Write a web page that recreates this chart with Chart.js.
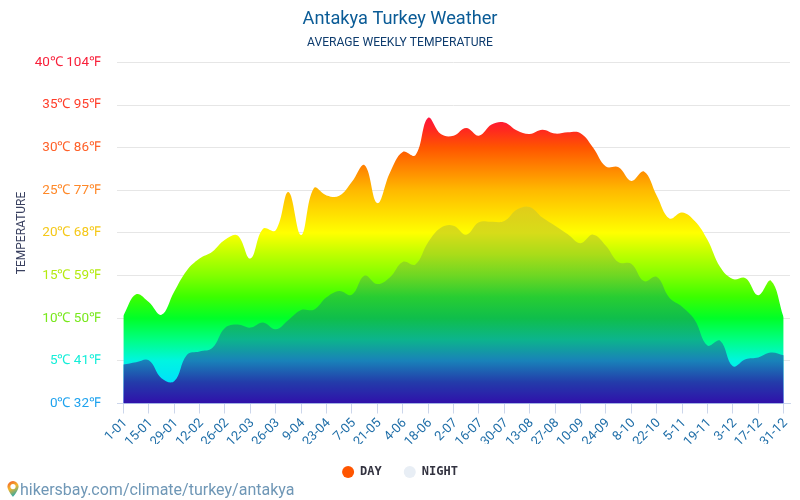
<!DOCTYPE html>
<html>
<head>
<meta charset="utf-8">
<title>Antakya Turkey Weather</title>
<script src="https://cdn.jsdelivr.net/npm/chart.js@4/dist/chart.umd.min.js"></script>
<style>
  html, body { margin: 0; padding: 0; background: #fff; }
  #wrap { position: relative; width: 800px; height: 500px; overflow: hidden; }
  #footer { position: absolute; left: 20px; top: 480px; font: 16px Roboto, sans-serif; color: #6f97b6; white-space: nowrap; }
  #pin { position: absolute; left: 6px; top: 480px; }
</style>
</head>
<body>
<div id="wrap">
  <canvas id="weatherChart" width="800" height="500"></canvas>
  <svg id="pin" width="14" height="18" viewBox="0 0 14 18">
    <defs>
      <linearGradient id="pinGrad" x1="0" y1="0" x2="0.4" y2="1">
        <stop offset="0" stop-color="#f0522a"/>
        <stop offset="0.5" stop-color="#f5b62c"/>
        <stop offset="1" stop-color="#2fa9a5"/>
      </linearGradient>
    </defs>
    <path d="M7 1a5.6 5.6 0 0 0-5.6 5.6C1.4 10.5 7 17 7 17s5.6-6.5 5.6-10.4A5.6 5.6 0 0 0 7 1z" fill="url(#pinGrad)"/>
    <circle cx="7" cy="6.6" r="2.6" fill="#fff"/>
  </svg>
  <div id="footer">hikersbay.com/climate/turkey/antakya</div>
</div>
<script>
const weeks = ['1-01','8-01','15-01','22-01','29-01','5-02','12-02','19-02','26-02','5-03','12-03','19-03','26-03','2-04','9-04','16-04','23-04','30-04','7-05','14-05','21-05','28-05','4-06','11-06','18-06','25-06','2-07','9-07','16-07','23-07','30-07','6-08','13-08','20-08','27-08','3-09','10-09','17-09','24-09','1-10','8-10','15-10','22-10','29-10','5-11','12-11','19-11','26-11','3-12','10-12','17-12','24-12','31-12'];
const dayTemps = [10.3,12.8,11.9,10.4,13.1,15.6,17.0,17.8,19.2,19.7,17.0,20.5,20.3,24.8,19.75,25.25,24.4,24.35,26.0,27.95,23.5,27.1,29.5,29.1,33.5,31.6,31.4,32.3,31.4,32.7,32.95,32.0,31.6,32.1,31.65,31.8,31.7,30.0,27.8,27.7,26.1,27.2,24.4,21.7,22.4,21.4,19.2,16.0,14.6,14.7,12.7,14.4,10.1];
const nightTemps = [4.57,4.84,5.07,2.97,2.6,5.7,6.1,6.5,8.85,9.25,8.9,9.5,8.7,9.8,10.97,11.0,12.45,13.2,12.75,15.0,14.0,14.8,16.6,16.3,18.9,20.6,20.85,19.8,21.25,21.3,21.4,22.75,23.05,21.8,20.85,19.85,18.8,19.8,18.5,16.55,16.4,14.35,14.85,12.4,11.35,9.8,6.8,7.35,4.37,5.2,5.4,5.97,5.65];
const tempLabels = ['0℃ 32℉','5℃ 41℉','10℃ 50℉','15℃ 59℉','20℃ 68℉','25℃ 77℉','30℃ 86℉','35℃ 95℉','40℃ 104℉'];
const tempLabelColors = ['#1ea2ee','#14eed8','#78e81c','#b4ea10','#f5c818','#ff8828','#ff6028','#ff3c28','#f8203a'];

const dayStops = [[0,'#0078ff'],[2.5,'#00e1fa'],[5,'#00f5e1'],[7.5,'#00ff82'],[10,'#00ff28'],[12.5,'#3cff00'],[15,'#82ff00'],[17.5,'#beff00'],[20,'#ffff00'],[25,'#ffb900'],[30,'#ff5500'],[32,'#ff2a1e'],[33.5,'#ff143c'],[40,'#ff0040']];
const nightStops = [[0,'#3010aa'],[2.5,'#233caa'],[5,'#1982b9'],[7.5,'#0cb48c'],[10,'#0fbe4b'],[12.5,'#28cd32'],[15,'#6ed723'],[17.5,'#aadc19'],[20,'#d7dc19'],[23,'#e1cd19'],[40,'#e1cd19']];

function makeFill(stops) {
  return (ctx) => {
    const { chart } = ctx;
    if (!chart.chartArea) return stops[0][1];
    const y = chart.scales.y;
    const g = chart.ctx.createLinearGradient(0, y.getPixelForValue(0), 0, y.getPixelForValue(40));
    stops.forEach(([v, c]) => g.addColorStop(v / 40, c));
    return g;
  };
}

new Chart(document.getElementById('weatherChart'), {
  type: 'line',
  data: {
    labels: weeks,
    datasets: [
      { label: 'DAY', data: dayTemps, order: 2, fill: 'origin', tension: 0.4, pointRadius: 0, borderWidth: 0, backgroundColor: makeFill(dayStops) },
      { label: 'NIGHT', data: nightTemps, order: 1, fill: 'origin', tension: 0.4, pointRadius: 0, borderWidth: 0, backgroundColor: makeFill(nightStops) }
    ]
  },
  options: {
    responsive: false,
    animation: false,
    layout: { padding: { left: 0, right: 0, top: 0, bottom: 12 } },
    scales: {
      x: {
        offset: true,
        afterBuildTicks: (s) => { s.ticks = s.ticks.filter((t, i) => i % 2 === 0); },
        afterFit: (s) => { s.height = 40.5; },
        grid: { offset: false, drawOnChartArea: false, tickColor: '#ccd6eb', tickLength: 10 },
        border: { color: '#ccd6eb' },
        ticks: { autoSkip: false, maxRotation: 45, minRotation: 45, padding: 2, labelOffset: 2, color: '#1f6ea8', font: { family: 'Roboto', size: 13 } }
      },
      y: {
        min: 0,
        max: 40,
        afterFit: (s) => { s.width = 117; },
        title: { display: true, text: 'TEMPERATURE', color: '#3a4160', font: { family: 'Roboto', size: 12 }, padding: { top: 15, bottom: 0 } },
        grid: { color: '#e6e6e6', drawTicks: false },
        border: { display: false },
        ticks: {
          stepSize: 5,
          padding: 16,
          color: (c) => tempLabelColors[c.index],
          font: { family: 'Roboto', size: 13.5 },
          callback: (v, i) => tempLabels[i]
        }
      },
      // empty right gutter so the gridlines stop at 790 while title and legend stay centred on the page
      y2: {
        position: 'right',
        afterFit: (s) => { s.width = 10; },
        grid: { display: false },
        border: { display: false },
        ticks: { display: false }
      }
    },
    plugins: {
      title: { display: true, text: 'Antakya Turkey Weather', color: '#0a5b96', font: { family: 'Roboto', size: 18.2, weight: 'normal' }, padding: { top: 9, bottom: 5 } },
      subtitle: { display: true, text: 'AVERAGE WEEKLY TEMPERATURE', color: '#0e3c6e', font: { family: 'Roboto', size: 12.1, weight: 'normal' }, padding: { bottom: 12 } },
      legend: {
        position: 'bottom',
        labels: {
          usePointStyle: true,
          boxHeight: 8.5,
          padding: 22,
          color: '#333340',
          font: { family: 'DejaVu Sans Mono', size: 12, weight: 'bold' },
          generateLabels: (chart) => chart.data.datasets.map((d, i) => ({
            text: d.label,
            datasetIndex: i,
            pointStyle: 'circle',
            fillStyle: ['#ff5500', '#e8eef5'][i],
            strokeStyle: ['#ff5500', '#e8eef5'][i],
            lineWidth: 0,
            fontColor: '#333340'
          }))
        }
      },
      tooltip: { enabled: false }
    }
  }
});
</script>
</body>
</html>
